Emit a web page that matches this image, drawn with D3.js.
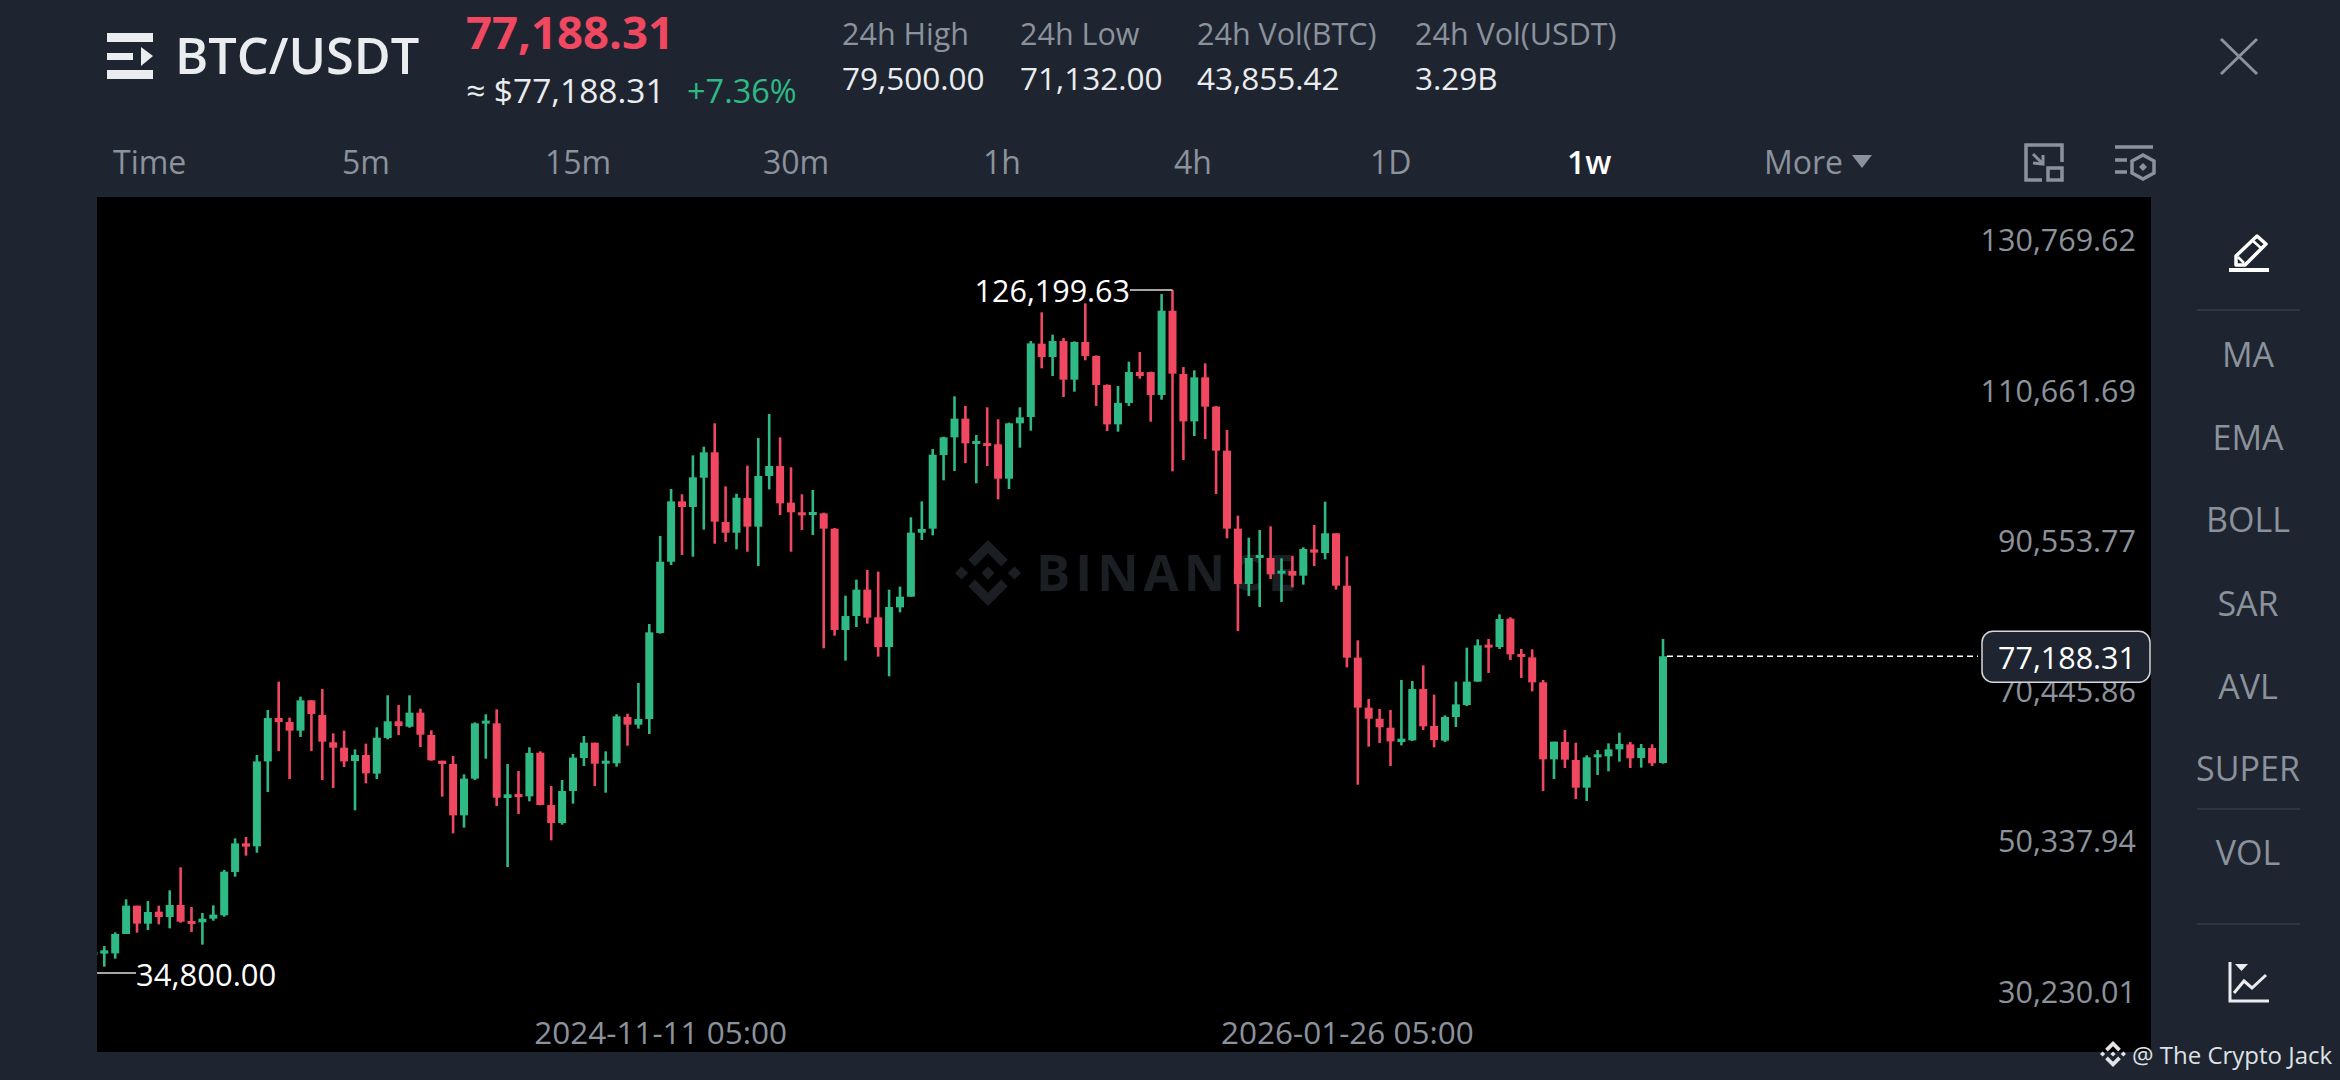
<!DOCTYPE html>
<html>
<head>
<meta charset="utf-8">
<title>BTC/USDT</title>
<script src="https://cdn.jsdelivr.net/npm/d3@7"></script>
<style>
  html, body { margin: 0; padding: 0; background: #1e2530; }
  svg { display: block; }
  text { font-family: "Open Sans", sans-serif; }
</style>
</head>
<body>
<div id="chart-container"></div>
<script>
// Weekly candles, values
const opens = [
  37160,37390,37430,40020,43810,41400,43010,42290,43900,41760,
  41580,42070,42520,48320,52150,51750,63120,68920,68390,67230,
  71290,69330,65670,64950,63170,63970,61480,66250,68480,67760,
  69640,66650,63210,62770,55900,60810,68210,68210,58220,58750,
  58440,64280,57280,54870,59160,63570,65620,62810,62860,69060,
  68030,68790,80300,89840,97920,97160,101080,104480,95150,93720,
  98360,94530,101310,102650,97740,96450,96090,96310,94260,80700,
  82570,86100,82400,78420,83730,85160,93720,94260,104120,106480,
  108980,105680,105720,105550,100950,108360,109200,119020,117230,119370,
  114200,119240,117370,113490,108220,111080,115220,115220,112150,123430,
  114960,108620,114510,110590,104700,94260,86860,90340,90340,88240,
  88600,87970,91490,91000,93640,86630,77000,70310,68830,67630,
  65710,65930,72800,67850,65890,69060,70660,73790,78740,78420,
  82220,77490,77040,73700,63390,65710,63300,59600,63660,63790,
  64730,65400,63570,64910,62900
];
const highs = [
  37880,38410,40240,44660,43810,44430,43810,45860,48940,43630,
  42830,43850,48580,52820,53000,63970,69990,73790,68970,71780,
  71290,72800,66870,67230,64730,65490,67680,71960,70660,71960,
  70170,67270,63210,63840,61380,68340,69420,70080,62770,61830,
  65000,64460,59820,60630,64110,66520,65620,64460,69420,69500,
  73610,81500,93280,99570,98860,104070,105230,108360,99920,98940,
  102690,106390,109600,106480,102470,98860,99440,96400,94350,85290,
  87440,88730,88510,86100,86500,95780,97920,104920,106570,111970,
  110680,106800,110500,108890,108450,110500,119370,123210,120220,119780,
  119330,124410,117460,113580,113350,116610,117900,115270,125660,126199.63,
  115890,115450,116380,110680,107460,96000,93060,94080,94570,90290,
  90600,91760,94750,97870,93640,90560,79320,71470,70130,69990,
  74010,73880,75970,72050,69280,73790,78340,79450,79500,82800,
  82400,78160,78110,74010,65760,67320,65620,63930,64640,65530,
  66960,65710,65450,65400,79500
];
const lows = [
  36760,35650,36720,40020,40200,40550,41310,40780,41530,40290,
  38590,41800,42340,47690,50500,50900,59020,64510,60760,66380,
  64510,60630,59560,62370,56570,60180,60760,66070,66650,67630,
  65040,63210,58400,53490,54250,60630,63480,57150,48980,56080,
  57770,57240,52550,54650,57460,62500,59820,58930,62410,65220,
  67500,66780,80210,89400,90740,90510,94130,92250,92480,91500,
  91180,89260,99520,96090,91180,94080,93410,78250,79940,76600,
  81100,81550,77130,74500,83060,85160,92740,93370,100730,101980,
  103050,100330,102650,98190,99570,105100,107370,115720,114690,111880,
  112590,116790,110680,107330,107240,110680,114330,108580,111520,101930,
  103450,106660,106260,98900,92970,80570,85250,83780,87520,84450,
  86410,86770,89260,90160,86100,75700,60000,65090,65580,62500,
  65270,65850,67320,65000,65710,67720,70530,73790,74950,78160,
  76690,74280,72490,59160,60760,62230,58080,57820,61300,61790,
  63080,62230,62280,62500,62810
];
const closes = [
  37610,37830,40020,43810,41400,42960,42290,43900,41670,41400,
  42070,42610,48360,52150,51710,63120,68920,68390,67230,71290,
  69460,65760,64950,63120,63970,61520,66290,68480,67850,69640,
  66690,63260,62770,55900,60810,68210,68570,58260,58710,58350,
  64240,57280,54870,59160,63620,65620,62810,63210,69150,68030,
  68790,80390,89840,97920,97160,101130,104480,95200,93720,98410,
  94530,101310,102650,97650,96450,96090,96490,94260,80700,82570,
  86100,82350,78420,83780,85160,93720,94220,104160,106480,108980,
  105680,105990,105370,100950,108360,109160,119060,117230,119370,114200,
  119240,117370,113490,108220,111080,115220,114690,112150,123430,115000,
  108620,114510,110590,104700,94260,86860,90340,90740,88150,88640,
  87970,91540,91050,93640,86630,77000,70310,68830,67680,65800,
  66160,72800,67810,65980,69060,70750,73790,78650,78340,82170,
  77440,77090,73700,63390,65760,63350,59600,63660,64060,64730,
  65450,63530,64910,62860,77188.31
];

const priceTicks = [130769.62, 110661.69, 90553.77, 70445.86, 50337.94, 30230.01];
const timeTickIndex = [52, 115];
const timeTickLabels = ["2024-11-11 05:00", "2026-01-26 05:00"];
const lastPrice = 77188.31;
const highPrice = 126199.63;
const highIndex = 99;
const lowPrice = 34800;

const statLabels = ["24h High", "24h Low", "24h Vol(BTC)", "24h Vol(USDT)"];
const statValues = ["79,500.00", "71,132.00", "43,855.42", "3.29B"];
const statX = [842, 1020, 1197, 1415];
const tabs = ["Time", "5m", "15m", "30m", "1h", "4h", "1D", "1w", "More"];
const tabX = [113, 342, 545, 763, 983, 1174, 1370, 1567, 1764];
const indicators = ["MA", "EMA", "BOLL", "SAR", "AVL", "SUPER", "VOL"];
const indicatorY = [354, 437, 519, 603, 686, 768, 852];
const sideRules = [310, 809, 924];

// Colours
const bg = "#1e2530", up = "#2fb985", down = "#ef4860", grey = "#8b929c", light = "#eaecef";

const W = 2340, H = 1080;
const plot = { left: 97, right: 2151, top: 197, bottom: 1052 };

const svg = d3.select("#chart-container").append("svg")
  .attr("width", W).attr("height", H);

svg.append("rect").attr("width", W).attr("height", H).attr("fill", bg);
svg.append("rect")
  .attr("x", plot.left).attr("y", plot.top)
  .attr("width", plot.right - plot.left).attr("height", plot.bottom - plot.top)
  .attr("fill", "#000");

svg.append("clipPath").attr("id", "plot-clip").append("rect")
  .attr("x", plot.left).attr("y", plot.top)
  .attr("width", plot.right - plot.left).attr("height", plot.bottom - plot.top);

// Scales
const xScale = d3.scaleLinear().domain([0, opens.length - 1]).range([93.4, 1663]);
const yScale = d3.scaleLinear().domain([lowPrice, highPrice]).range([973, 290]);

// The little Binance mark, used as watermark and in the footer
function binanceLogo(parent, cx, cy, r, color) {
  const g = parent.append("g")
    .attr("transform", `translate(${cx},${cy}) scale(${r / 100})`)
    .attr("fill", color);
  const diamond = (x, y, s) => `M${x - s},${y}L${x},${y - s}L${x + s},${y}L${x},${y + s}Z`;
  g.append("path").attr("d", diamond(0, 0, 20));
  g.append("path").attr("d", diamond(-80, 0, 20));
  g.append("path").attr("d", diamond(80, 0, 20));
  g.append("path").attr("d", "M0,-100L60,-40L40,-20L0,-60L-40,-20L-60,-40Z");
  g.append("path").attr("d", "M0,100L60,40L40,20L0,60L-40,20L-60,40Z");
}

// Watermark sits under the candles
binanceLogo(svg, 988, 573, 33, "#1b1e23");
svg.append("text")
  .attr("x", 1036).attr("y", 591)
  .attr("font-size", 51).attr("font-weight", 700)
  .attr("letter-spacing", 5)
  .attr("fill", "#1b1e23")
  .text("BINANCE");

// Candles
const candles = svg.append("g").attr("clip-path", "url(#plot-clip)")
  .selectAll("g")
  .data(opens.map((o, i) => ({ i, o, h: highs[i], l: lows[i], c: closes[i] })))
  .join("g")
  .attr("fill", d => d.c >= d.o ? up : down);

candles.append("rect")
  .attr("x", d => xScale(d.i) - 1.3)
  .attr("width", 2.6)
  .attr("y", d => yScale(d.h))
  .attr("height", d => yScale(d.l) - yScale(d.h));

candles.append("rect")
  .attr("x", d => xScale(d.i) - 4)
  .attr("width", 8)
  .attr("y", d => yScale(Math.max(d.o, d.c)))
  .attr("height", d => Math.max(3, Math.abs(yScale(d.o) - yScale(d.c))));

// Price axis, labels sit above their level like on the app
const yAxis = d3.axisLeft(yScale)
  .tickValues(priceTicks)
  .tickSize(0)
  .tickPadding(0)
  .tickFormat(d3.format(",.2f"));

const yAxisG = svg.append("g").attr("transform", "translate(2136,0)").call(yAxis);
yAxisG.select(".domain").remove();
yAxisG.selectAll("text")
  .attr("dy", null)
  .attr("y", -17)
  .attr("dominant-baseline", "central")
  .attr("font-size", 30.5)
  .attr("font-family", null)
  .attr("fill", grey);

// Time axis
const xAxis = d3.axisBottom(xScale)
  .tickValues(timeTickIndex)
  .tickSize(0)
  .tickPadding(0)
  .tickFormat((d, i) => timeTickLabels[i]);

const xAxisG = svg.append("g").attr("transform", "translate(0,1031)").call(xAxis);
xAxisG.select(".domain").remove();
xAxisG.selectAll("text")
  .attr("dy", null)
  .attr("y", 0)
  .attr("dominant-baseline", "central")
  .attr("font-size", 31.5)
  .attr("font-family", null)
  .attr("fill", grey);

// High and low callouts
svg.append("line")
  .attr("x1", 1130).attr("x2", xScale(highIndex))
  .attr("y1", yScale(highPrice)).attr("y2", yScale(highPrice))
  .attr("stroke", "#ddd").attr("stroke-width", 1.5);
svg.append("text")
  .attr("x", 1130).attr("y", yScale(highPrice))
  .attr("text-anchor", "end").attr("dominant-baseline", "central")
  .attr("font-size", 30.5).attr("fill", "#fff")
  .text(d3.format(",.2f")(highPrice));

svg.append("line")
  .attr("x1", plot.left).attr("x2", 136)
  .attr("y1", yScale(lowPrice)).attr("y2", yScale(lowPrice))
  .attr("stroke", "#ddd").attr("stroke-width", 1.5);
svg.append("text")
  .attr("x", 136).attr("y", yScale(lowPrice) + 1)
  .attr("dominant-baseline", "central")
  .attr("font-size", 31).attr("fill", "#fff")
  .text(d3.format(",.2f")(lowPrice));

// Last price line and tag
svg.append("line")
  .attr("x1", xScale(opens.length - 1) + 4).attr("x2", 1978)
  .attr("y1", yScale(lastPrice)).attr("y2", yScale(lastPrice))
  .attr("stroke", "#fff").attr("stroke-width", 1.5)
  .attr("stroke-dasharray", "6 4");
svg.append("rect")
  .attr("x", 1982).attr("y", yScale(lastPrice) - 25)
  .attr("width", 168).attr("height", 51).attr("rx", 11)
  .attr("fill", bg).attr("stroke", "#d5d7da").attr("stroke-width", 1.5);
svg.append("text")
  .attr("x", 2136).attr("y", yScale(lastPrice) + 1)
  .attr("text-anchor", "end").attr("dominant-baseline", "central")
  .attr("font-size", 30.5).attr("fill", "#fff")
  .text(d3.format(",.2f")(lastPrice));

// Header
const menu = svg.append("g").attr("fill", light);
menu.append("rect").attr("x", 107).attr("y", 33).attr("width", 46).attr("height", 9);
menu.append("rect").attr("x", 107).attr("y", 53).attr("width", 26).attr("height", 7);
menu.append("path").attr("d", "M141,47L153,56L141,66Z");
menu.append("rect").attr("x", 107).attr("y", 70).attr("width", 46).attr("height", 9);

svg.append("text").attr("x", 175).attr("y", 74)
  .attr("font-size", 50.5).attr("font-weight", 600).attr("fill", light).text("BTC/USDT");
svg.append("text").attr("x", 466).attr("y", 49)
  .attr("font-size", 45.5).attr("font-weight", 700).attr("fill", down).text("77,188.31");
svg.append("text").attr("x", 466).attr("y", 103)
  .attr("font-size", 33.5).attr("font-weight", 500).attr("fill", light).text("≈ $77,188.31");
svg.append("text").attr("x", 687).attr("y", 103)
  .attr("font-size", 32.5).attr("fill", up).text("+7.36%");

svg.selectAll(".stat-label").data(statLabels).join("text")
  .attr("class", "stat-label")
  .attr("x", (d, i) => statX[i]).attr("y", 45)
  .attr("font-size", 30.5).attr("fill", grey).text(d => d);
svg.selectAll(".stat-value").data(statValues).join("text")
  .attr("class", "stat-value")
  .attr("x", (d, i) => statX[i]).attr("y", 90)
  .attr("font-size", 31.5).attr("font-weight", 500).attr("fill", light).text(d => d);

// Close button
svg.append("path")
  .attr("d", "M2221,39L2257,74M2257,39L2221,74")
  .attr("stroke", grey).attr("stroke-width", 3).attr("fill", "none");

// Interval tabs
svg.selectAll(".tab").data(tabs).join("text")
  .attr("class", "tab")
  .attr("x", (d, i) => tabX[i]).attr("y", 174)
  .attr("font-size", 32)
  .attr("font-weight", d => d === "1w" ? 600 : 400)
  .attr("fill", d => d === "1w" ? "#fff" : grey)
  .text(d => d);
svg.append("path").attr("d", "M1852,155L1872,155L1862,168Z").attr("fill", grey);

const tools = svg.append("g").attr("fill", "none").attr("stroke", grey).attr("stroke-width", 3.5);
tools.append("path").attr("d", "M2062,162L2062,145L2026,145L2026,180L2042,180");
tools.append("path").attr("d", "M2033,154L2043,164M2033,163L2043,164L2043,155").attr("stroke-width", 3);
tools.append("rect").attr("x", 2048).attr("y", 168).attr("width", 14).attr("height", 12);
tools.append("path").attr("d", "M2115,147L2153,147M2115,160L2127,160M2115,172L2127,172");
tools.append("path").attr("d", "M2143,155L2154,161L2154,173L2143,179L2132,173L2132,161Z");
svg.append("path").attr("d", "M2143,163L2147,167L2143,171L2139,167Z").attr("fill", grey);

// Side panel
svg.selectAll(".indicator").data(indicators).join("text")
  .attr("class", "indicator")
  .attr("x", 2248).attr("y", (d, i) => indicatorY[i])
  .attr("text-anchor", "middle").attr("dominant-baseline", "central")
  .attr("font-size", 34).attr("fill", grey).text(d => d);
svg.selectAll(".side-rule").data(sideRules).join("line")
  .attr("class", "side-rule")
  .attr("x1", 2197).attr("x2", 2300)
  .attr("y1", d => d).attr("y2", d => d)
  .attr("stroke", "#363d47").attr("stroke-width", 1.5);

// Pencil
const pencil = svg.append("g").attr("fill", "none").attr("stroke", "#fff")
  .attr("stroke-width", 3.5).attr("stroke-linejoin", "round");
pencil.append("path").attr("d", "M2229,270L2269,270").attr("stroke-width", 4);
pencil.append("path").attr("d", "M2236,265L2236,256L2257,236L2266,244L2245,265Z");
pencil.append("path").attr("d", "M2252,240L2262,249M2238,257L2244,263").attr("stroke-width", 2.5);

// Line chart icon
svg.append("path")
  .attr("d", "M2230,962L2230,1001L2269,1001M2234,993L2244,981L2252,988L2266,975")
  .attr("fill", "none").attr("stroke", light).attr("stroke-width", 3);
svg.append("path").attr("d", "M2235,964L2248,964L2241.5,971Z").attr("fill", light);

// Footer credit
binanceLogo(svg, 2113, 1054, 13, "#e3e5e8");
svg.append("text").attr("x", 2132).attr("y", 1054)
  .attr("dominant-baseline", "central")
  .attr("font-size", 24).attr("fill", "#dfe1e4").text("@ The Crypto Jack");
</script>
</body>
</html>
